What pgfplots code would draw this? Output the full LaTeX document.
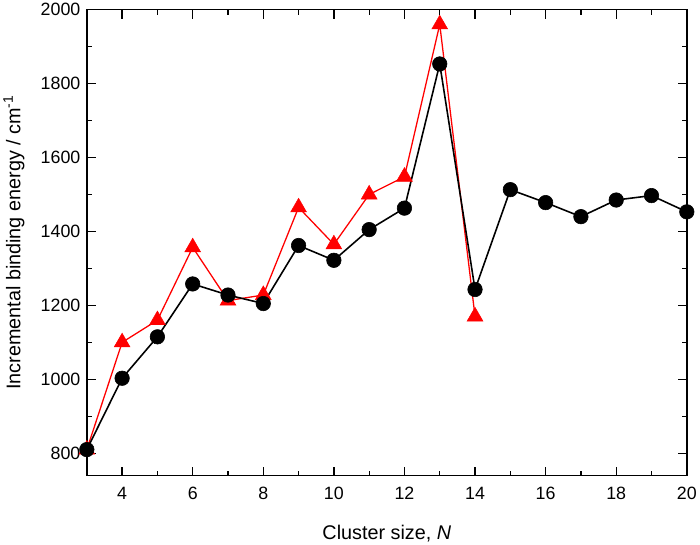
\documentclass[border=0pt]{standalone}
\usepackage{pgfplots}
\pgfplotsset{compat=1.18}
\usepackage{fontspec}
\setmainfont{Liberation Sans}

\begin{document}
\begin{tikzpicture}
\begin{axis}[
  scale only axis,
  width=604bp, height=469bp,
  xmin=3, xmax=20, ymin=740, ymax=2000,
  xtick={4,6,...,20},
  ytick={800,1000,...,2000},
  minor x tick num=1,
  minor y tick num=1,
  tick align=inside,
  major tick length=9bp,
  minor tick length=5bp,
  axis line style={line width=1.5pt},
  every tick/.style={line width=1.3pt, black},
  /pgf/number format/assume math mode=true,
  /pgf/number format/1000 sep={},
  tick label style={font=\fontsize{18}{21}\selectfont},
  xticklabel style={yshift=-8bp},
  yticklabel style={xshift=-3bp},
  label style={font=\fontsize{20}{24}\selectfont},
  xlabel={Cluster size, \textit{N}},
  ylabel={Incremental binding energy / cm\textsuperscript{-1}},
  xlabel style={at={(axis description cs:0.5,0)}, anchor=base, yshift=-64bp},
  ylabel style={at={([xshift=-67bp]axis description cs:0,0.5)}, anchor=base},
  clip=false,
]
% triangles: second data set (up to N = 14)
\addplot[red, line width=1.3pt, mark=triangle*, mark size=9.2bp,
  mark options={solid, fill=red, line width=0.5pt}] coordinates {
  (3,810) (4,1100) (5,1160) (6,1357) (7,1213) (8,1228) (9,1465)
  (10,1365) (11,1500) (12,1548) (13,1960) (14,1170)
};
% circles: full series N = 3 ... 20
\addplot[black, line width=1.6pt, mark=*, mark size=7.3bp,
  mark options={solid, fill=black, line width=0.6pt}] coordinates {
  (3,810) (4,1003) (5,1115) (6,1258) (7,1228) (8,1205) (9,1362)
  (10,1322) (11,1405) (12,1463) (13,1853) (14,1243) (15,1513)
  (16,1478) (17,1440) (18,1485) (19,1497) (20,1453)
};
\end{axis}
\end{tikzpicture}
\end{document}
